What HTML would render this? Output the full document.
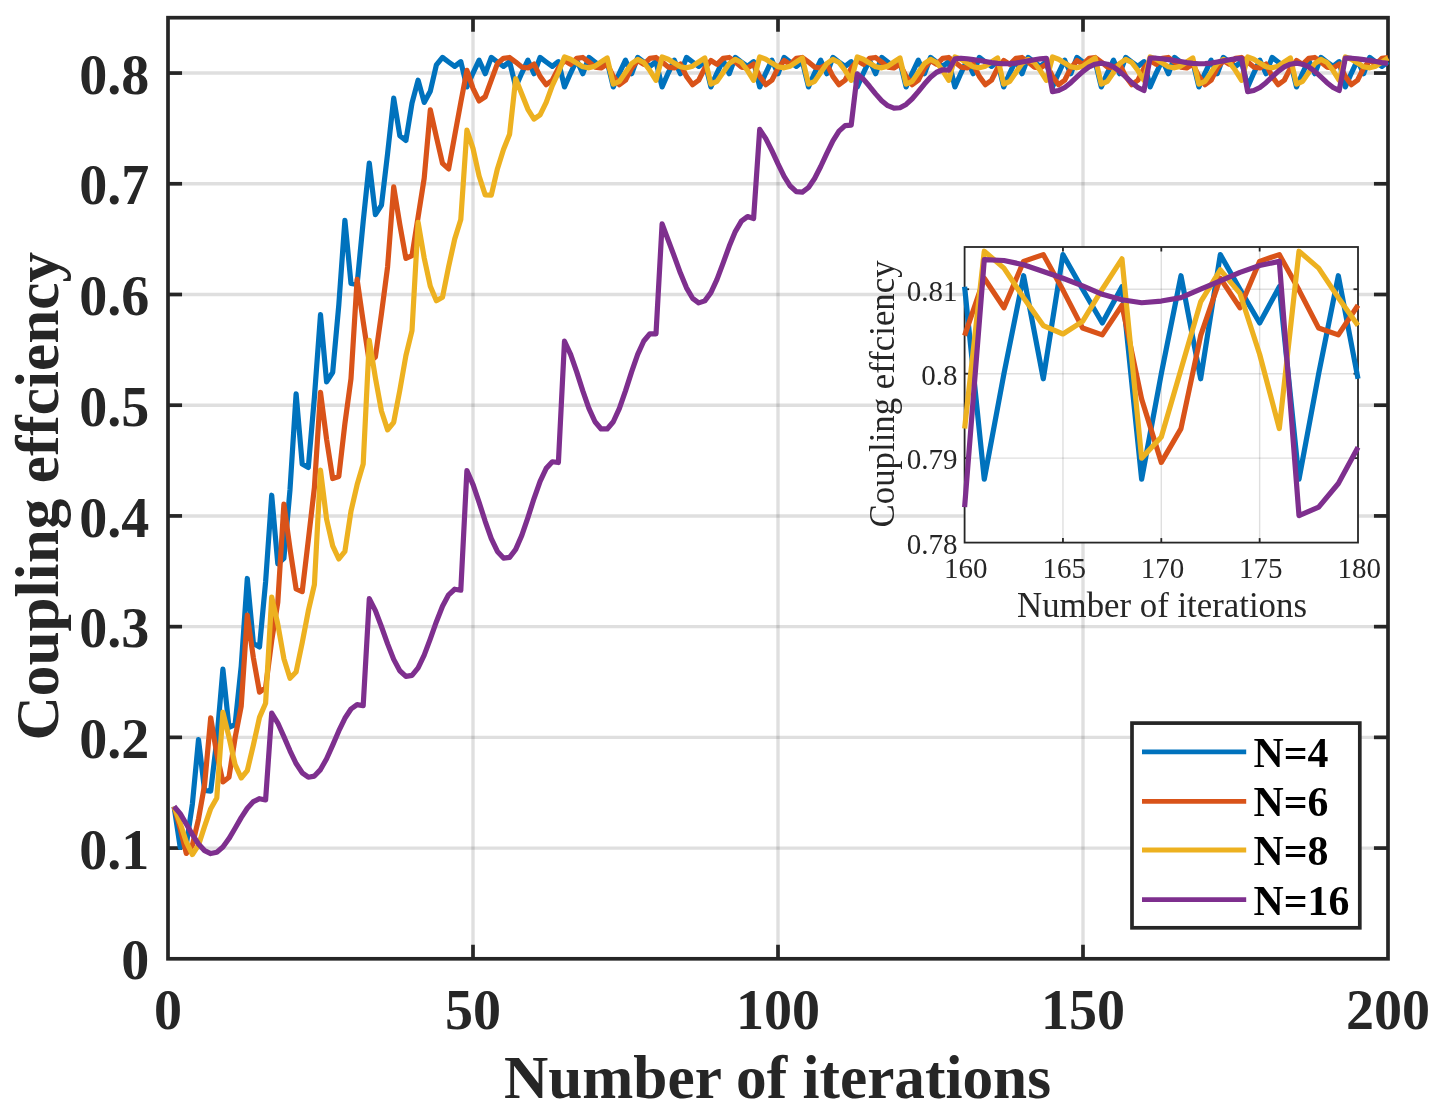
<!DOCTYPE html>
<html lang="en"><head><meta charset="utf-8"><title>Coupling efficiency vs number of iterations</title>
<style>html,body{margin:0;padding:0;background:#fff;}body{width:1442px;height:1117px;overflow:hidden;}svg{display:block;}text{font-family:"Liberation Serif","Times New Roman",Times,serif;}.b{font-weight:bold;fill:#262626;}.r{font-weight:normal;fill:#262626;}</style></head><body>
<svg width="1442" height="1117" viewBox="0 0 1442 1117">
<rect x="0" y="0" width="1442" height="1117" fill="#ffffff"/>
<g stroke="rgba(38,38,38,0.15)" stroke-width="3.4" fill="none">
<line x1="168" y1="848.08" x2="1388" y2="848.08"/>
<line x1="168" y1="737.36" x2="1388" y2="737.36"/>
<line x1="168" y1="626.65" x2="1388" y2="626.65"/>
<line x1="168" y1="515.93" x2="1388" y2="515.93"/>
<line x1="168" y1="405.21" x2="1388" y2="405.21"/>
<line x1="168" y1="294.49" x2="1388" y2="294.49"/>
<line x1="168" y1="183.78" x2="1388" y2="183.78"/>
<line x1="168" y1="73.06" x2="1388" y2="73.06"/>
<line x1="473" y1="17.7" x2="473" y2="958.8"/>
<line x1="778" y1="17.7" x2="778" y2="958.8"/>
<line x1="1083" y1="17.7" x2="1083" y2="958.8"/>
</g>
<g stroke="#262626" stroke-width="3.7" fill="none" stroke-linecap="butt">
<rect x="168" y="17.7" width="1220" height="941.1"/>
<line x1="168" y1="848.08" x2="182.05" y2="848.08"/>
<line x1="1388" y1="848.08" x2="1373.95" y2="848.08"/>
<line x1="168" y1="737.36" x2="182.05" y2="737.36"/>
<line x1="1388" y1="737.36" x2="1373.95" y2="737.36"/>
<line x1="168" y1="626.65" x2="182.05" y2="626.65"/>
<line x1="1388" y1="626.65" x2="1373.95" y2="626.65"/>
<line x1="168" y1="515.93" x2="182.05" y2="515.93"/>
<line x1="1388" y1="515.93" x2="1373.95" y2="515.93"/>
<line x1="168" y1="405.21" x2="182.05" y2="405.21"/>
<line x1="1388" y1="405.21" x2="1373.95" y2="405.21"/>
<line x1="168" y1="294.49" x2="182.05" y2="294.49"/>
<line x1="1388" y1="294.49" x2="1373.95" y2="294.49"/>
<line x1="168" y1="183.78" x2="182.05" y2="183.78"/>
<line x1="1388" y1="183.78" x2="1373.95" y2="183.78"/>
<line x1="168" y1="73.06" x2="182.05" y2="73.06"/>
<line x1="1388" y1="73.06" x2="1373.95" y2="73.06"/>
<line x1="473" y1="958.8" x2="473" y2="944.75"/>
<line x1="473" y1="17.7" x2="473" y2="31.75"/>
<line x1="778" y1="958.8" x2="778" y2="944.75"/>
<line x1="778" y1="17.7" x2="778" y2="31.75"/>
<line x1="1083" y1="958.8" x2="1083" y2="944.75"/>
<line x1="1083" y1="17.7" x2="1083" y2="31.75"/>
</g>
<g fill="none" stroke-width="5.2" stroke-linejoin="round" stroke-linecap="butt">
<polyline stroke="#0072bd" points="174.1,806.56 180.2,847.42 186.3,844.76 192.4,803.8 198.5,739.58 204.6,790.51 210.7,791.06 216.8,740.13 222.9,669.16 229,727.4 235.1,724.63 241.2,666.39 247.3,578.48 253.4,643.48 259.5,647.02 265.6,582.03 271.7,495.23 277.8,563.87 283.9,558.33 290,489.69 296.1,393.81 302.2,464 308.3,467.44 314.4,397.24 320.5,314.64 326.6,381.96 332.7,372.33 338.8,305.01 344.9,220.31 351,283.42 357.1,284.53 363.2,221.42 369.3,163.07 375.4,214.67 381.5,205.03 387.6,153.44 393.7,98.19 399.8,135.61 405.9,140.49 412,103.06 418.1,80.14 424.2,102.4 430.3,91.22 436.4,64.87 442.5,57.45 448.6,61.99 454.7,66.42 460.8,61.65 466.9,86.9 473,73.06 479.1,60.22 485.2,73.72 491.3,57.45 497.4,61.99 503.5,66.42 509.6,61.65 515.7,86.9 521.8,73.06 527.9,60.22 534,73.72 540.1,57.45 546.2,61.99 552.3,66.42 558.4,61.65 564.5,86.9 570.6,73.06 576.7,60.22 582.8,73.72 588.9,57.45 595,61.99 601.1,66.42 607.2,61.65 613.3,86.9 619.4,73.06 625.5,60.22 631.6,73.72 637.7,57.45 643.8,61.99 649.9,66.42 656,61.65 662.1,86.9 668.2,73.06 674.3,60.22 680.4,73.72 686.5,57.45 692.6,61.99 698.7,66.42 704.8,61.65 710.9,86.9 717,73.06 723.1,60.22 729.2,73.72 735.3,57.45 741.4,61.99 747.5,66.42 753.6,61.65 759.7,86.9 765.8,73.06 771.9,60.22 778,73.72 784.1,57.45 790.2,61.99 796.3,66.42 802.4,61.65 808.5,86.9 814.6,73.06 820.7,60.22 826.8,73.72 832.9,57.45 839,61.99 845.1,66.42 851.2,61.65 857.3,86.9 863.4,73.06 869.5,60.22 875.6,73.72 881.7,57.45 887.8,61.99 893.9,66.42 900,61.65 906.1,86.9 912.2,73.06 918.3,60.22 924.4,73.72 930.5,57.45 936.6,61.99 942.7,66.42 948.8,61.65 954.9,86.9 961,73.06 967.1,60.22 973.2,73.72 979.3,57.45 985.4,61.99 991.5,66.42 997.6,61.65 1003.7,86.9 1009.8,73.06 1015.9,60.22 1022,73.72 1028.1,57.45 1034.2,61.99 1040.3,66.42 1046.4,61.65 1052.5,86.9 1058.6,73.06 1064.7,60.22 1070.8,73.72 1076.9,57.45 1083,61.99 1089.1,66.42 1095.2,61.65 1101.3,86.9 1107.4,73.06 1113.5,60.22 1119.6,73.72 1125.7,57.45 1131.8,61.99 1137.9,66.42 1144,61.65 1150.1,86.9 1156.2,73.06 1162.3,60.22 1168.4,73.72 1174.5,57.45 1180.6,61.99 1186.7,66.42 1192.8,61.65 1198.9,86.9 1205,73.06 1211.1,60.22 1217.2,73.72 1223.3,57.45 1229.4,61.99 1235.5,66.42 1241.6,61.65 1247.7,86.9 1253.8,73.06 1259.9,60.22 1266,73.72 1272.1,57.45 1278.2,61.99 1284.3,66.42 1290.4,61.65 1296.5,86.9 1302.6,73.06 1308.7,60.22 1314.8,73.72 1320.9,57.45 1327,61.99 1333.1,66.42 1339.2,61.65 1345.3,86.9 1351.4,73.06 1357.5,60.22 1363.6,73.72 1369.7,57.45 1375.8,61.99 1381.9,66.42 1388,61.65"/>
<polyline stroke="#d95319" points="174.1,806.56 180.2,828.49 186.3,853.4 192.4,845.09 198.5,819.07 204.6,784.75 210.7,717.77 216.8,753.92 222.9,781.98 229,777.22 235.1,737.75 241.2,706.36 247.3,615.02 253.4,657.87 259.5,692.08 265.6,687.54 271.7,640.6 277.8,602.29 283.9,504.19 290,548.63 296.1,588.89 302.2,591.66 308.3,540.29 314.4,487.59 320.5,392.37 326.6,439.37 332.7,478.51 338.8,476.51 344.9,423.65 351,378.64 357.1,279.33 363.2,321.73 369.3,362.03 375.4,356.94 381.5,313.32 387.6,266.81 393.7,186.88 399.8,224.52 405.9,258.4 412,255.63 418.1,216.99 424.2,178.24 430.3,109.93 436.4,137.02 442.5,163.4 448.6,168.94 454.7,135.61 460.8,102.4 466.9,70.4 473,88.45 479.1,100.96 485.2,96.75 491.3,80.14 497.4,63.54 503.5,58.33 509.6,57.45 515.7,62.1 521.8,67.08 527.9,67.97 534,64.09 540.1,76.38 546.2,84.68 552.3,80.26 558.4,68.08 564.5,60.55 570.6,64.42 576.7,58.33 582.8,57.45 588.9,62.1 595,67.08 601.1,67.97 607.2,64.09 613.3,76.38 619.4,84.68 625.5,80.26 631.6,68.08 637.7,60.55 643.8,64.42 649.9,58.33 656,57.45 662.1,62.1 668.2,67.08 674.3,67.97 680.4,64.09 686.5,76.38 692.6,84.68 698.7,80.26 704.8,68.08 710.9,60.55 717,64.42 723.1,58.33 729.2,57.45 735.3,62.1 741.4,67.08 747.5,67.97 753.6,64.09 759.7,76.38 765.8,84.68 771.9,80.26 778,68.08 784.1,60.55 790.2,64.42 796.3,58.33 802.4,57.45 808.5,62.1 814.6,67.08 820.7,67.97 826.8,64.09 832.9,76.38 839,84.68 845.1,80.26 851.2,68.08 857.3,60.55 863.4,64.42 869.5,58.33 875.6,57.45 881.7,62.1 887.8,67.08 893.9,67.97 900,64.09 906.1,76.38 912.2,84.68 918.3,80.26 924.4,68.08 930.5,60.55 936.6,64.42 942.7,58.33 948.8,57.45 954.9,62.1 961,67.08 967.1,67.97 973.2,64.09 979.3,76.38 985.4,84.68 991.5,80.26 997.6,68.08 1003.7,60.55 1009.8,64.42 1015.9,58.33 1022,57.45 1028.1,62.1 1034.2,67.08 1040.3,67.97 1046.4,64.09 1052.5,76.38 1058.6,84.68 1064.7,80.26 1070.8,68.08 1076.9,60.55 1083,64.42 1089.1,58.33 1095.2,57.45 1101.3,62.1 1107.4,67.08 1113.5,67.97 1119.6,64.09 1125.7,76.38 1131.8,84.68 1137.9,80.26 1144,68.08 1150.1,60.55 1156.2,64.42 1162.3,58.33 1168.4,57.45 1174.5,62.1 1180.6,67.08 1186.7,67.97 1192.8,64.09 1198.9,76.38 1205,84.68 1211.1,80.26 1217.2,68.08 1223.3,60.55 1229.4,64.42 1235.5,58.33 1241.6,57.45 1247.7,62.1 1253.8,67.08 1259.9,67.97 1266,64.09 1272.1,76.38 1278.2,84.68 1284.3,80.26 1290.4,68.08 1296.5,60.55 1302.6,64.42 1308.7,58.33 1314.8,57.45 1320.9,62.1 1327,67.08 1333.1,67.97 1339.2,64.09 1345.3,76.38 1351.4,84.68 1357.5,80.26 1363.6,68.08 1369.7,60.55 1375.8,64.42 1381.9,58.33 1388,57.45"/>
<polyline stroke="#edb120" points="174.1,806.56 180.2,823.28 186.3,841.99 192.4,854.5 198.5,845.09 204.6,826.38 210.7,808.67 216.8,797.93 222.9,712.23 229,737.13 235.1,764.69 241.2,778 247.3,770.58 253.4,744.91 259.5,717.35 265.6,703.26 271.7,597.09 277.8,624.11 283.9,658.79 290,678.24 296.1,672.04 302.2,642.81 308.3,610.93 314.4,584.57 320.5,470.2 326.6,519.25 332.7,545.82 338.8,559 344.9,551.36 351,511.17 357.1,484.82 363.2,464 369.3,340.33 375.4,377.86 381.5,411.19 387.6,429.9 393.7,422.26 399.8,390.38 405.9,355.61 412,330.7 418.1,222.31 424.2,257.96 430.3,286.19 436.4,300.69 442.5,297.26 448.6,266.7 454.7,239.14 460.8,219.54 466.9,130.08 473,148.35 479.1,176.03 485.2,194.85 491.3,195.18 497.4,168.94 503.5,149.45 509.6,134.29 515.7,78.71 521.8,93.98 527.9,109.26 534,119.01 540.1,114.8 546.2,102.4 552.3,85.68 558.4,72.51 564.5,57 570.6,59.22 576.7,63.09 582.8,66.75 588.9,67.86 595,66.19 601.1,61.99 607.2,58 613.3,84.13 619.4,81.36 625.5,72.51 631.6,63.65 637.7,59.44 643.8,62.54 649.9,70.51 656,80.26 662.1,57 668.2,59.22 674.3,63.09 680.4,66.75 686.5,67.86 692.6,66.19 698.7,61.99 704.8,58 710.9,84.13 717,81.36 723.1,72.51 729.2,63.65 735.3,59.44 741.4,62.54 747.5,70.51 753.6,80.26 759.7,57 765.8,59.22 771.9,63.09 778,66.75 784.1,67.86 790.2,66.19 796.3,61.99 802.4,58 808.5,84.13 814.6,81.36 820.7,72.51 826.8,63.65 832.9,59.44 839,62.54 845.1,70.51 851.2,80.26 857.3,57 863.4,59.22 869.5,63.09 875.6,66.75 881.7,67.86 887.8,66.19 893.9,61.99 900,58 906.1,84.13 912.2,81.36 918.3,72.51 924.4,63.65 930.5,59.44 936.6,62.54 942.7,70.51 948.8,80.26 954.9,57 961,59.22 967.1,63.09 973.2,66.75 979.3,67.86 985.4,66.19 991.5,61.99 997.6,58 1003.7,84.13 1009.8,81.36 1015.9,72.51 1022,63.65 1028.1,59.44 1034.2,62.54 1040.3,70.51 1046.4,80.26 1052.5,57 1058.6,59.22 1064.7,63.09 1070.8,66.75 1076.9,67.86 1083,66.19 1089.1,61.99 1095.2,58 1101.3,84.13 1107.4,81.36 1113.5,72.51 1119.6,63.65 1125.7,59.44 1131.8,62.54 1137.9,70.51 1144,80.26 1150.1,57 1156.2,59.22 1162.3,63.09 1168.4,66.75 1174.5,67.86 1180.6,66.19 1186.7,61.99 1192.8,58 1198.9,84.13 1205,81.36 1211.1,72.51 1217.2,63.65 1223.3,59.44 1229.4,62.54 1235.5,70.51 1241.6,80.26 1247.7,57 1253.8,59.22 1259.9,63.09 1266,66.75 1272.1,67.86 1278.2,66.19 1284.3,61.99 1290.4,58 1296.5,84.13 1302.6,81.36 1308.7,72.51 1314.8,63.65 1320.9,59.44 1327,62.54 1333.1,70.51 1339.2,80.26 1345.3,57 1351.4,59.22 1357.5,63.09 1363.6,66.75 1369.7,67.86 1375.8,66.19 1381.9,61.99 1388,58"/>
<polyline stroke="#7e2f8e" points="174.1,806.45 180.2,813.63 186.3,823.96 192.4,834.62 198.5,843.98 204.6,850.62 210.7,853.53 216.8,852.27 222.9,847.03 229,838.6 235.1,828.28 241.2,817.62 247.3,808.26 253.4,801.61 259.5,798.7 265.6,799.96 271.7,713.01 277.8,723.03 283.9,736.6 290,750.81 296.1,763.52 302.2,772.78 308.3,777.19 314.4,776.07 320.5,769.6 326.6,758.75 332.7,745.19 338.8,730.97 344.9,718.26 351,709 357.1,704.59 363.2,705.71 369.3,598.64 375.4,610.56 381.5,626.78 387.6,643.91 393.7,659.36 399.8,670.76 405.9,676.39 412,675.38 418.1,667.89 424.2,655.05 430.3,638.83 436.4,621.7 442.5,606.25 448.6,594.85 454.7,589.22 460.8,590.24 466.9,470.54 473,484.46 479.1,502.3 485.2,521.31 491.3,538.58 497.4,551.48 503.5,558.07 509.6,557.32 515.7,549.36 521.8,535.39 527.9,517.55 534,498.55 540.1,481.28 546.2,468.37 552.3,461.79 558.4,462.54 564.5,341.22 570.6,354.43 576.7,371.92 582.8,390.85 588.9,408.34 595,421.73 601.1,428.97 607.2,428.97 613.3,421.73 619.4,408.34 625.5,390.85 631.6,371.92 637.7,354.43 643.8,341.04 649.9,333.8 656,333.8 662.1,223.86 668.2,240.06 674.3,256.32 680.4,273.1 686.5,287.84 692.6,298.3 698.7,302.89 704.8,300.9 710.9,292.64 717,279.38 723.1,263.11 729.2,246.34 735.3,231.6 741.4,221.14 747.5,216.55 753.6,218.53 759.7,129.41 765.8,138.66 771.9,150.68 778,163.91 784.1,176.33 790.2,186.04 796.3,191.59 802.4,192.11 808.5,187.52 814.6,178.54 820.7,166.52 826.8,153.29 832.9,140.88 839,131.16 845.1,125.62 851.2,125.1 857.3,73.94 863.4,79.15 869.5,86.31 875.6,93.87 881.7,100.68 887.8,105.71 893.9,108.19 900,107.75 906.1,104.44 912.2,98.78 918.3,91.63 924.4,84.06 930.5,77.25 936.6,72.22 942.7,69.74 948.8,70.18 954.9,58.89 961,58.22 967.1,58.78 973.2,59.66 979.3,60.55 985.4,61.54 991.5,62.65 997.6,63.37 1003.7,63.76 1009.8,63.54 1015.9,63.09 1022,61.99 1028.1,60.88 1034.2,59.77 1040.3,58.89 1046.4,58.33 1052.5,91.66 1058.6,90.55 1064.7,87.45 1070.8,82.69 1076.9,76.93 1083,71.4 1089.1,66.97 1095.2,64.2 1101.3,63.09 1107.4,64.2 1113.5,66.97 1119.6,71.4 1125.7,76.93 1131.8,82.69 1137.9,87.45 1144,90.55 1150.1,58.11 1156.2,58.22 1162.3,58.78 1168.4,59.66 1174.5,60.55 1180.6,61.54 1186.7,62.65 1192.8,63.37 1198.9,63.76 1205,63.54 1211.1,63.09 1217.2,61.99 1223.3,60.88 1229.4,59.77 1235.5,58.89 1241.6,58.33 1247.7,91.66 1253.8,90.55 1259.9,87.45 1266,82.69 1272.1,76.93 1278.2,71.4 1284.3,66.97 1290.4,64.2 1296.5,63.09 1302.6,64.2 1308.7,66.97 1314.8,71.4 1320.9,76.93 1327,82.69 1333.1,87.45 1339.2,90.55 1345.3,58.11 1351.4,58.22 1357.5,58.78 1363.6,59.66 1369.7,60.55 1375.8,61.54 1381.9,62.65 1388,63.37"/>
</g>
<g class="b" font-size="56">
<text x="149.2" y="979.4" text-anchor="end">0</text>
<text x="149.2" y="868.68" text-anchor="end">0.1</text>
<text x="149.2" y="757.96" text-anchor="end">0.2</text>
<text x="149.2" y="647.25" text-anchor="end">0.3</text>
<text x="149.2" y="536.53" text-anchor="end">0.4</text>
<text x="149.2" y="425.81" text-anchor="end">0.5</text>
<text x="149.2" y="315.09" text-anchor="end">0.6</text>
<text x="149.2" y="204.38" text-anchor="end">0.7</text>
<text x="149.2" y="93.66" text-anchor="end">0.8</text>
<text x="168" y="1028.6" text-anchor="middle">0</text>
<text x="473" y="1028.6" text-anchor="middle">50</text>
<text x="778" y="1028.6" text-anchor="middle">100</text>
<text x="1083" y="1028.6" text-anchor="middle">150</text>
<text x="1388" y="1028.6" text-anchor="middle">200</text>
</g>
<text class="b" font-size="61.3" x="777.5" y="1097.6" text-anchor="middle">Number of iterations</text>
<text class="b" font-size="61.3" text-anchor="middle" transform="translate(58.1 496.2) rotate(-90)">Coupling effciency</text>
<rect x="964.6" y="247" width="393.4" height="295.6" fill="#ffffff"/>
<g stroke="rgba(38,38,38,0.15)" stroke-width="1.4" fill="none">
<line x1="964.6" y1="458.14" x2="1358" y2="458.14"/>
<line x1="964.6" y1="373.69" x2="1358" y2="373.69"/>
<line x1="964.6" y1="289.23" x2="1358" y2="289.23"/>
<line x1="1062.95" y1="247" x2="1062.95" y2="542.6"/>
<line x1="1161.3" y1="247" x2="1161.3" y2="542.6"/>
<line x1="1259.65" y1="247" x2="1259.65" y2="542.6"/>
</g>
<g stroke="#262626" stroke-width="1.8" fill="none">
<rect x="964.6" y="247" width="393.4" height="295.6"/>
<line x1="964.6" y1="458.14" x2="969.1" y2="458.14"/>
<line x1="1358" y1="458.14" x2="1353.5" y2="458.14"/>
<line x1="964.6" y1="373.69" x2="969.1" y2="373.69"/>
<line x1="1358" y1="373.69" x2="1353.5" y2="373.69"/>
<line x1="964.6" y1="289.23" x2="969.1" y2="289.23"/>
<line x1="1358" y1="289.23" x2="1353.5" y2="289.23"/>
<line x1="1062.95" y1="542.6" x2="1062.95" y2="538.1"/>
<line x1="1062.95" y1="247" x2="1062.95" y2="251.5"/>
<line x1="1161.3" y1="542.6" x2="1161.3" y2="538.1"/>
<line x1="1161.3" y1="247" x2="1161.3" y2="251.5"/>
<line x1="1259.65" y1="542.6" x2="1259.65" y2="538.1"/>
<line x1="1259.65" y1="247" x2="1259.65" y2="251.5"/>
</g>
<g fill="none" stroke-width="5.2" stroke-linejoin="round" stroke-linecap="butt">
<polyline stroke="#0072bd" points="964.6,286.69 984.27,479.26 1003.94,373.69 1023.61,275.72 1043.28,378.75 1062.95,254.6 1082.62,289.23 1102.29,323.01 1121.96,286.69 1141.63,479.26 1161.3,373.69 1180.97,275.72 1200.64,378.75 1220.31,254.6 1239.98,289.23 1259.65,323.01 1279.32,286.69 1298.99,479.26 1318.66,373.69 1338.33,275.72 1358,378.75"/>
<polyline stroke="#d95319" points="964.6,335.68 984.27,278.25 1003.94,307.81 1023.61,261.36 1043.28,254.6 1062.95,290.07 1082.62,328.08 1102.29,334.84 1121.96,305.28 1141.63,399.02 1161.3,462.37 1180.97,428.58 1200.64,335.68 1220.31,278.25 1239.98,307.81 1259.65,261.36 1279.32,254.6 1298.99,290.07 1318.66,328.08 1338.33,334.84 1358,305.28"/>
<polyline stroke="#edb120" points="964.6,428.58 984.27,251.22 1003.94,268.11 1023.61,297.67 1043.28,325.55 1062.95,333.99 1082.62,321.32 1102.29,289.23 1121.96,258.82 1141.63,458.14 1161.3,437.03 1180.97,369.46 1200.64,301.9 1220.31,269.8 1239.98,293.45 1259.65,354.26 1279.32,428.58 1298.99,251.22 1318.66,268.11 1338.33,297.67 1358,325.55"/>
<polyline stroke="#7e2f8e" points="964.6,507.13 984.27,259.67 1003.94,260.51 1023.61,264.74 1043.28,271.49 1062.95,278.25 1082.62,285.85 1102.29,294.3 1121.96,299.79 1141.63,302.74 1161.3,301.05 1180.97,297.67 1200.64,289.23 1220.31,280.78 1239.98,272.34 1259.65,265.58 1279.32,261.36 1298.99,515.57 1318.66,507.13 1338.33,483.48 1358,447.16"/>
</g>
<g class="r" font-size="29">
<text x="957.6" y="553.9" text-anchor="end">0.78</text>
<text x="957.6" y="469.44" text-anchor="end">0.79</text>
<text x="957.6" y="384.99" text-anchor="end">0.8</text>
<text x="957.6" y="300.53" text-anchor="end">0.81</text>
<text x="965.8" y="577.8" text-anchor="middle">160</text>
<text x="1064.15" y="577.8" text-anchor="middle">165</text>
<text x="1162.5" y="577.8" text-anchor="middle">170</text>
<text x="1260.85" y="577.8" text-anchor="middle">175</text>
<text x="1359.2" y="577.8" text-anchor="middle">180</text>
</g>
<text class="r" font-size="34.8" x="1162" y="616.5" text-anchor="middle">Number of iterations</text>
<text class="r" font-size="34.8" text-anchor="middle" transform="translate(893.8 393.9) rotate(-90)">Coupling effciency</text>
<rect x="1132" y="723.1" width="227.8" height="204.7" fill="#ffffff" stroke="#262626" stroke-width="3.7"/>
<line x1="1142" y1="751.9" x2="1246.2" y2="751.9" stroke="#0072bd" stroke-width="4.8"/>
<text x="1253.6" y="766.9" font-size="41.8" font-weight="bold" fill="#000000">N=4</text>
<line x1="1142" y1="801.4" x2="1246.2" y2="801.4" stroke="#d95319" stroke-width="4.8"/>
<text x="1253.6" y="816.4" font-size="41.8" font-weight="bold" fill="#000000">N=6</text>
<line x1="1142" y1="850" x2="1246.2" y2="850" stroke="#edb120" stroke-width="4.8"/>
<text x="1253.6" y="865" font-size="41.8" font-weight="bold" fill="#000000">N=8</text>
<line x1="1142" y1="899.6" x2="1246.2" y2="899.6" stroke="#7e2f8e" stroke-width="4.8"/>
<text x="1253.6" y="914.6" font-size="41.8" font-weight="bold" fill="#000000">N=16</text>
</svg></body></html>
